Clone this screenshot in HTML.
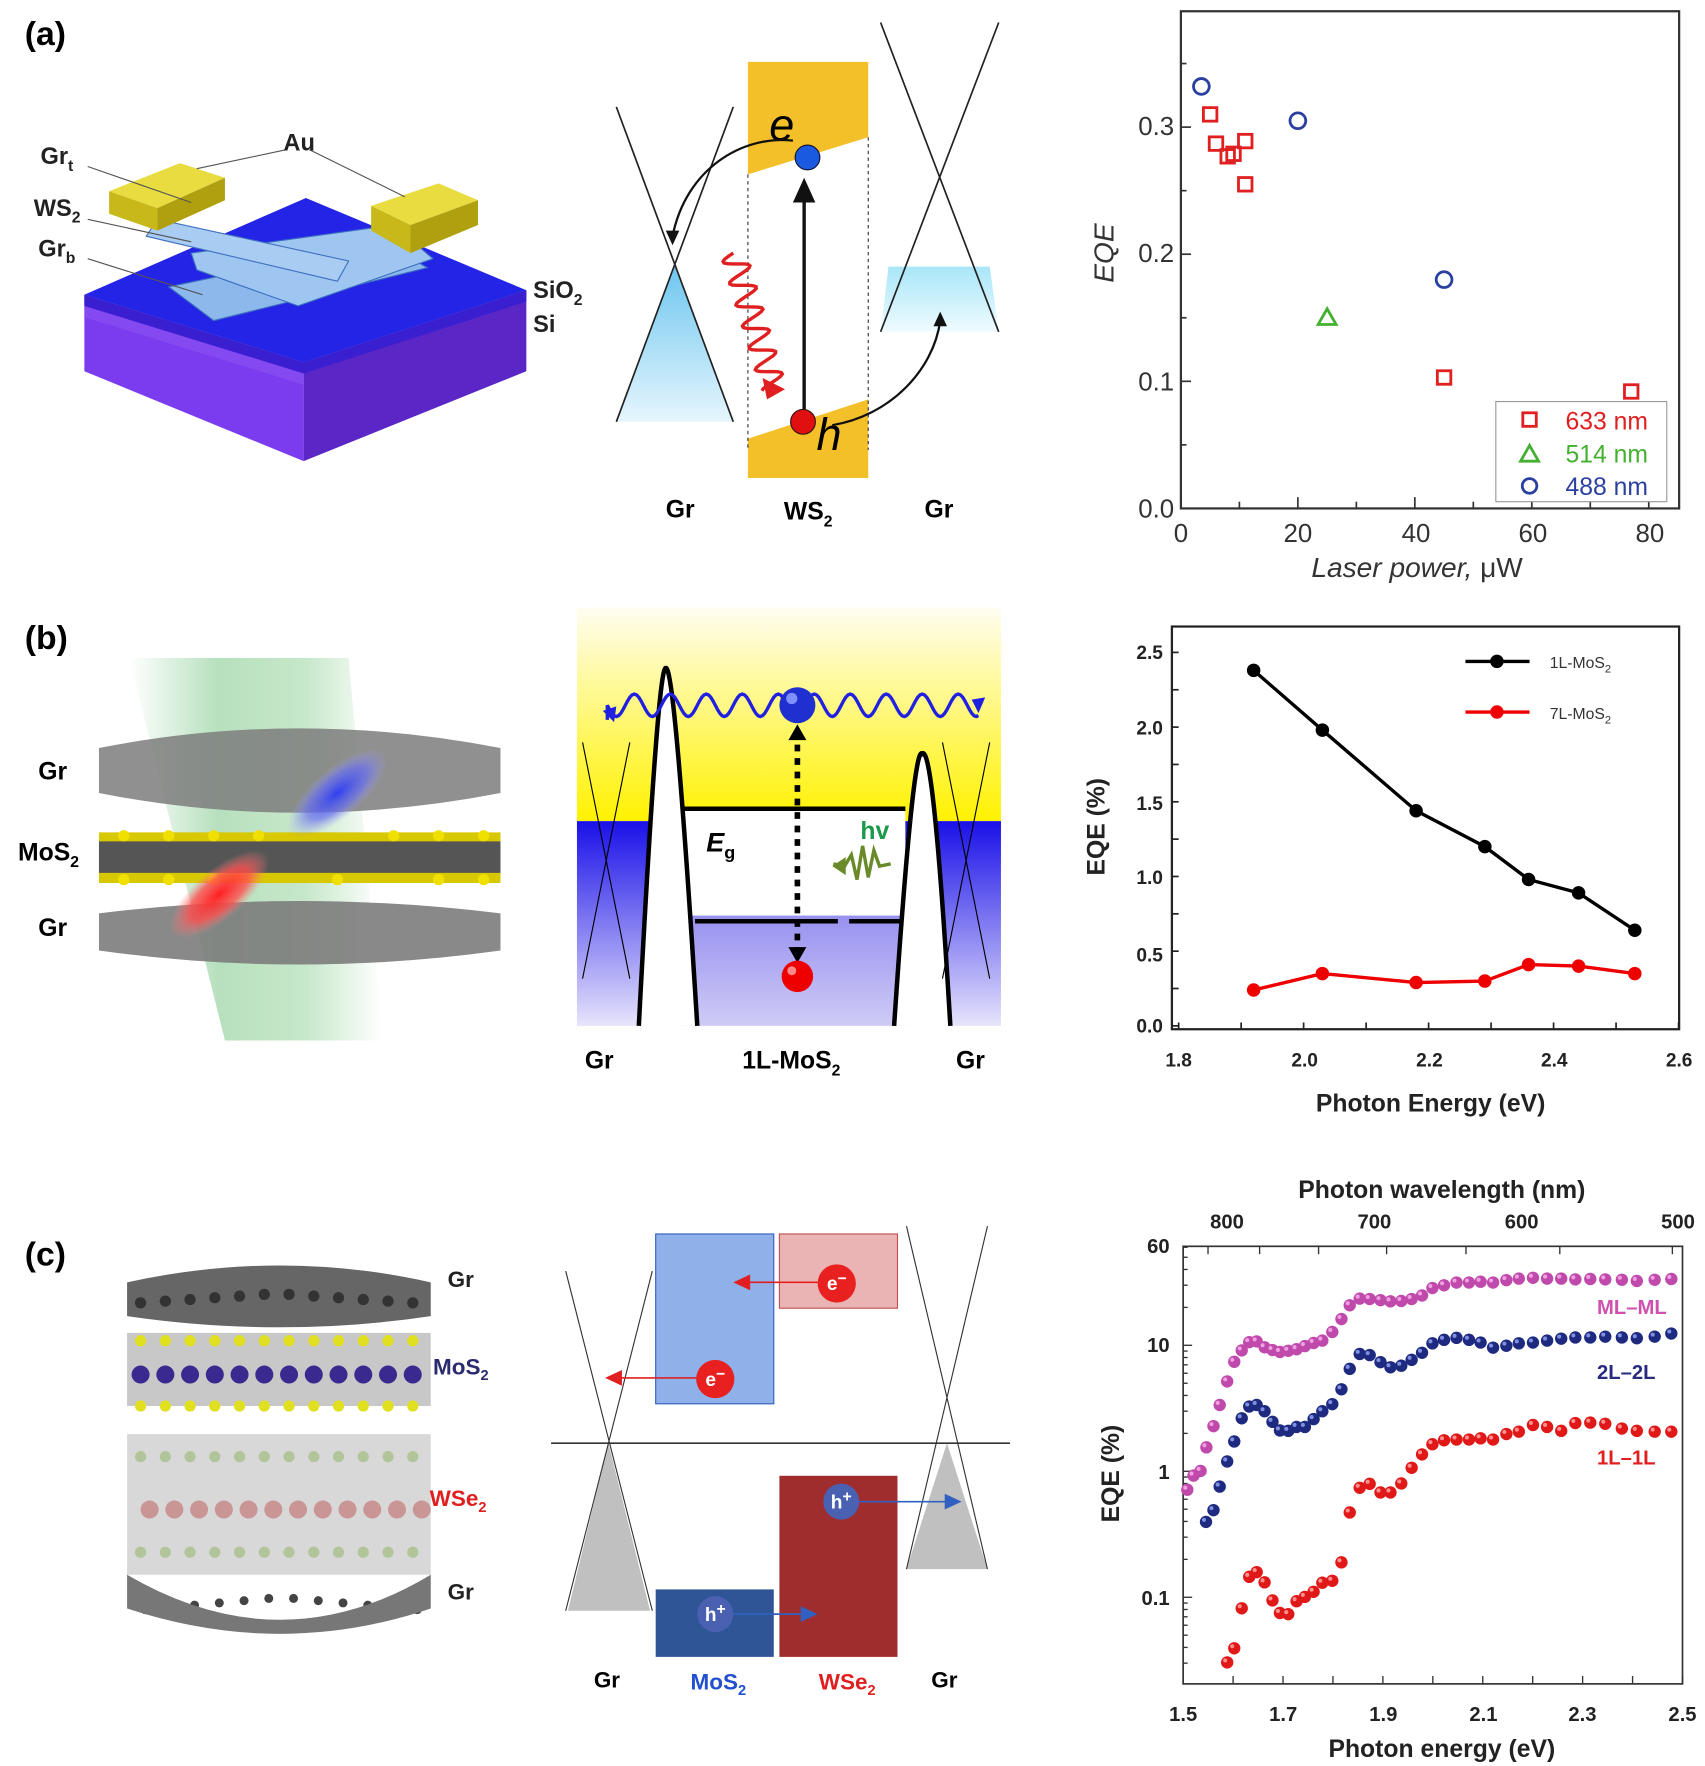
<!DOCTYPE html>
<html><head><meta charset="utf-8"><style>
html,body{margin:0;padding:0;background:#fff}
svg{display:block}
text{font-family:"Liberation Sans",sans-serif}
</style></head><body>
<svg id="s" width="1705" height="1766" viewBox="0 0 1516 1570" preserveAspectRatio="none" xmlns="http://www.w3.org/2000/svg">
<defs>
<linearGradient id="cone" x1="0" y1="0" x2="0" y2="1"><stop offset="0" stop-color="#6ec6f0"/><stop offset="1" stop-color="#e6f6fd"/></linearGradient>
<linearGradient id="cone2" x1="0" y1="0" x2="0" y2="1"><stop offset="0" stop-color="#a8e6f8"/><stop offset="1" stop-color="#f0fbff"/></linearGradient>
<linearGradient id="yel" x1="0" y1="0" x2="0" y2="1"><stop offset="0" stop-color="#fffdf2"/><stop offset="1" stop-color="#fff200"/></linearGradient>
<linearGradient id="blu" x1="0" y1="0" x2="0" y2="1"><stop offset="0" stop-color="#1a10e8"/><stop offset="1" stop-color="#e6e4fb"/></linearGradient>
<linearGradient id="beam" x1="0" y1="0" x2="1" y2="0"><stop offset="0" stop-color="#fff"/><stop offset=".35" stop-color="#a5d8ad"/><stop offset=".7" stop-color="#b9e2bd"/><stop offset="1" stop-color="#fff"/></linearGradient>
<radialGradient id="rb"><stop offset="0" stop-color="#ff2020"/><stop offset=".6" stop-color="#ff5050" stop-opacity=".8"/><stop offset="1" stop-color="#ff8080" stop-opacity="0"/></radialGradient>
<radialGradient id="bb"><stop offset="0" stop-color="#3040f0"/><stop offset=".6" stop-color="#6a70f0" stop-opacity=".7"/><stop offset="1" stop-color="#a0a0ff" stop-opacity="0"/></radialGradient>
</defs>

<!-- ================= (a) ================= -->
<text x="22" y="40" font-size="30" font-weight="bold">(a)</text>
<polygon points="75,330 270,410 270,322 75,262" fill="#7b3cf0"/>
<polygon points="270,410 468,330 468,258 270,322" fill="#5a26c6"/>
<polygon points="75,262 270,322 468,258 272,176" fill="#2424e6"/>
<polygon points="75,262 270,322 468,258 468,268 270,332 75,272" fill="#3a1fd0"/>
<polygon points="75,272 270,332 270,342 75,282" fill="#8a52f2" opacity=".6"/>
<polygon points="150,255 340,215 380,238 190,285" fill="#8cb8ec" stroke="#3b6fc0"/>
<polygon points="170,225 350,200 385,230 265,272 175,240" fill="#9fc6f0" stroke="#3b6fc0"/>
<polygon points="140,195 310,232 300,250 130,210" fill="#a8ccf2" stroke="#4070c0"/>
<polygon points="97,170 160,145 200,158 140,185" fill="#e8dc40"/>
<polygon points="97,170 140,185 140,205 97,190" fill="#c9b81a"/>
<polygon points="140,185 200,158 200,178 140,205" fill="#b0a010"/>
<polygon points="330,183 390,163 425,178 365,200" fill="#e8dc40"/>
<polygon points="330,183 365,200 365,225 330,205" fill="#c9b81a"/>
<polygon points="365,200 425,178 425,200 365,225" fill="#b0a010"/>
<g stroke="#555" stroke-width="1"><line x1="255" y1="133" x2="175" y2="150"/><line x1="275" y1="133" x2="360" y2="175"/><line x1="78" y1="148" x2="170" y2="180"/><line x1="78" y1="195" x2="170" y2="215"/><line x1="78" y1="230" x2="180" y2="262"/></g>
<g font-size="21" font-weight="bold" fill="#222">
<text x="252" y="134">Au</text>
<text x="36" y="146">Gr<tspan font-size="14" dy="6">t</tspan></text>
<text x="30" y="192">WS<tspan font-size="14" dy="6">2</tspan></text>
<text x="34" y="228">Gr<tspan font-size="14" dy="6">b</tspan></text>
<text x="474" y="265">SiO<tspan font-size="14" dy="6">2</tspan></text>
<text x="474" y="295">Si</text>
</g>
<polygon points="600,237 548,375 652,375" fill="url(#cone)"/>
<line x1="548" y1="95" x2="652" y2="375" stroke="#222" stroke-width="1.5"/>
<line x1="652" y1="95" x2="548" y2="375" stroke="#222" stroke-width="1.5"/>
<polygon points="790,237 880,237 888,295 783,295" fill="url(#cone2)"/>
<line x1="783" y1="20" x2="888" y2="295" stroke="#222" stroke-width="1.5"/>
<line x1="888" y1="20" x2="783" y2="295" stroke="#222" stroke-width="1.5"/>
<polygon points="665,55 772,55 772,122 665,155" fill="#f4c02a"/>
<polygon points="665,390 772,355 772,425 665,425" fill="#f4c02a"/>
<line x1="665" y1="155" x2="665" y2="400" stroke="#333" stroke-dasharray="3,3"/>
<line x1="772" y1="122" x2="772" y2="400" stroke="#333" stroke-dasharray="3,3"/>
<line x1="715" y1="370" x2="715" y2="170" stroke="#111" stroke-width="3"/>
<polygon points="705,180 725,180 715,158" fill="#111"/>
<circle cx="718" cy="140" r="11" fill="#1a5ae0" stroke="#113"/>
<circle cx="714" cy="375" r="11" fill="#e01010" stroke="#311"/>
<text x="684" y="125" font-size="40" font-style="italic" font-family="Liberation Serif">e</text>
<text x="726" y="400" font-size="40" font-style="italic" font-family="Liberation Serif">h</text>
<path d="M705,125 C660,120 610,150 598,210" fill="none" stroke="#111" stroke-width="2"/>
<polygon points="592,205 604,205 598,218" fill="#111"/>
<path d="M740,378 C790,370 830,330 836,285" fill="none" stroke="#111" stroke-width="2"/>
<polygon points="830,290 842,290 836,277" fill="#111"/>
<path id="rw" fill="none" stroke="#e02020" stroke-width="3"/>
<polygon points="678,336 698,346 682,355" fill="#e02020"/>
<g font-size="22" font-weight="bold"><text x="592" y="460">Gr</text><text x="697" y="462">WS<tspan font-size="14" dy="6">2</tspan></text><text x="822" y="460">Gr</text></g>

<rect x="1050" y="10" width="443" height="442" fill="none" stroke="#333" stroke-width="2"/>
<g id="ga" stroke="#333" stroke-width="1.5"></g>
<g font-size="23" fill="#333">
<text x="1044" y="460" text-anchor="end">0.0</text><text x="1044" y="347" text-anchor="end">0.1</text><text x="1044" y="233" text-anchor="end">0.2</text><text x="1044" y="120" text-anchor="end">0.3</text>
<text x="1050" y="482" text-anchor="middle">0</text><text x="1154" y="482" text-anchor="middle">20</text><text x="1259" y="482" text-anchor="middle">40</text><text x="1363" y="482" text-anchor="middle">60</text><text x="1467" y="482" text-anchor="middle">80</text>
<text x="1260" y="513" text-anchor="middle" font-style="italic" font-size="25">Laser power, <tspan font-style="normal">μW</tspan></text>
<text transform="translate(990,225) rotate(-90)" text-anchor="middle" font-style="italic" font-size="25">EQE</text>
</g>
<rect x="1330" y="357" width="152" height="89" fill="#fff" stroke="#999"/>
<g id="pa"></g>
<rect x="1354" y="367" width="12" height="12" fill="none" stroke="#e02020" stroke-width="2.5"/>
<polygon points="1360,396 1352,410 1368,410" fill="none" stroke="#44b030" stroke-width="2.5"/>
<circle cx="1360" cy="432" r="6.5" fill="none" stroke="#2a3fa0" stroke-width="2.5"/>
<g font-size="22"><text x="1392" y="382" fill="#e02020">633 nm</text><text x="1392" y="411" fill="#44b030">514 nm</text><text x="1392" y="440" fill="#2a3fa0">488 nm</text></g>

<!-- ================= (b) ================= -->
<text x="22" y="577" font-size="30" font-weight="bold">(b)</text>
<polygon points="115,585 310,585 340,925 200,925" fill="url(#beam)" opacity=".8"/>
<path d="M88,665 Q265,630 445,665 L445,705 Q265,740 88,705Z" fill="#7c7c7c" opacity=".85"/>
<path d="M88,740 L445,740 L445,785 L88,785Z" fill="#d8c800"/>
<path d="M88,748 L445,748 L445,776 L88,776Z" fill="#555"/>
<path d="M88,812 Q265,790 445,812 L445,845 Q265,870 88,845Z" fill="#7c7c7c" opacity=".9"/>
<g fill="#f0e000"><circle cx="110" cy="743" r="5"/><circle cx="150" cy="743" r="5"/><circle cx="190" cy="743" r="5"/><circle cx="230" cy="743" r="5"/><circle cx="350" cy="743" r="5"/><circle cx="390" cy="743" r="5"/><circle cx="430" cy="743" r="5"/><circle cx="110" cy="782" r="5"/><circle cx="150" cy="782" r="5"/><circle cx="190" cy="782" r="5"/><circle cx="300" cy="782" r="5"/><circle cx="390" cy="782" r="5"/><circle cx="430" cy="782" r="5"/></g>
<ellipse cx="300" cy="705" rx="55" ry="22" fill="url(#bb)" transform="rotate(-40 300 705)"/>
<ellipse cx="195" cy="795" rx="55" ry="22" fill="url(#rb)" transform="rotate(-40 195 795)"/>
<g font-size="22" font-weight="bold"><text x="34" y="693">Gr</text><text x="16" y="765">MoS<tspan font-size="14" dy="6">2</tspan></text><text x="34" y="832">Gr</text></g>

<rect x="513" y="540" width="377" height="190" fill="url(#yel)"/>
<rect x="513" y="730" width="377" height="182" fill="url(#blu)"/>
<rect x="605" y="718" width="200" height="96" fill="#fff"/>
<rect x="605" y="814" width="200" height="98" fill="#b8b2f0" opacity=".5"/>
<path d="M568,912 Q585,590 592,594 Q600,590 620,912Z" fill="#fff"/>
<path d="M795,912 Q812,660 820,670 Q830,660 845,912Z" fill="#fff"/>
<path d="M568,912 Q585,590 592,594 Q600,590 620,912" fill="none" stroke="#000" stroke-width="4"/>
<path d="M795,912 Q812,660 820,670 Q830,660 845,912" fill="none" stroke="#000" stroke-width="4"/>
<line x1="608" y1="719" x2="805" y2="719" stroke="#000" stroke-width="4"/>
<line x1="618" y1="819" x2="745" y2="819" stroke="#000" stroke-width="4"/>
<line x1="755" y1="819" x2="800" y2="819" stroke="#000" stroke-width="4"/>
<g stroke="#000" stroke-width="1"><line x1="518" y1="660" x2="560" y2="870"/><line x1="560" y1="660" x2="518" y2="870"/><line x1="838" y1="660" x2="880" y2="870"/><line x1="880" y1="660" x2="838" y2="870"/></g>
<path id="wave" fill="none" stroke="#2020e0" stroke-width="3"/>
<circle cx="709" cy="627" r="16" fill="#2030d0"/><circle cx="704" cy="621" r="5" fill="#8090ff"/>
<line x1="709" y1="650" x2="709" y2="850" stroke="#000" stroke-width="5" stroke-dasharray="6,6"/>
<polygon points="701,658 717,658 709,644" fill="#000"/><polygon points="701,842 717,842 709,856" fill="#000"/>
<circle cx="709" cy="868" r="14" fill="#e00"/><circle cx="704" cy="863" r="4" fill="#f88"/>
<path d="M792,768 l-10,2 l-5,-14 l-5,24 l-5,-28 l-5,30 l-5,-22 l-6,10 l-10,-2" fill="none" stroke="#6a8a2a" stroke-width="3"/>
<polygon points="740,770 752,762 752,778" fill="#6a8a2a"/>
<text x="765" y="746" font-size="22" font-weight="bold" fill="#1a9a4a">hv</text>
<text x="628" y="757" font-size="24" font-weight="bold" font-style="italic">E<tspan font-size="16" dy="6" font-style="normal">g</tspan></text>
<g font-size="22" font-weight="bold"><text x="520" y="950">Gr</text><text x="660" y="950">1L-MoS<tspan font-size="14" dy="6">2</tspan></text><text x="850" y="950">Gr</text></g>

<rect x="1042" y="557" width="451" height="358" fill="none" stroke="#222" stroke-width="2"/>
<g id="gb" stroke="#222" stroke-width="1.5"></g>
<g font-size="17" font-weight="bold" fill="#222" text-anchor="end">
<text x="1034" y="918">0.0</text><text x="1034" y="855">0.5</text><text x="1034" y="786">1.0</text><text x="1034" y="720">1.5</text><text x="1034" y="653">2.0</text><text x="1034" y="586">2.5</text></g>
<g font-size="17" font-weight="bold" fill="#222" text-anchor="middle">
<text x="1048" y="948">1.8</text><text x="1160" y="948">2.0</text><text x="1271" y="948">2.2</text><text x="1382" y="948">2.4</text><text x="1493" y="948">2.6</text>
<text x="1272" y="988" font-size="22">Photon Energy (eV)</text>
<text transform="translate(982,735) rotate(-90)" font-size="22">EQE (%)</text></g>
<g id="pb"></g>
<line x1="1303" y1="588" x2="1360" y2="588" stroke="#000" stroke-width="3"/><circle cx="1331" cy="588" r="6" fill="#000"/>
<line x1="1303" y1="633" x2="1360" y2="633" stroke="#e00" stroke-width="3"/><circle cx="1331" cy="633" r="6" fill="#e00"/>
<g font-size="14" fill="#333"><text x="1378" y="594">1L-MoS<tspan font-size="10" dy="4">2</tspan></text><text x="1378" y="639">7L-MoS<tspan font-size="10" dy="4">2</tspan></text></g>

<!-- ================= (c) ================= -->
<text x="22" y="1125" font-size="30" font-weight="bold">(c)</text>
<path d="M113,1140 Q250,1110 383,1140 L383,1170 Q250,1190 113,1170Z" fill="#666"/>
<path d="M113,1185 L383,1185 L383,1250 L113,1250Z" fill="#c8c8c8"/>
<g id="atoms"></g>
<path d="M113,1275 L383,1275 L383,1400 L113,1400Z" fill="#c8c8c8" opacity=".7"/>
<path d="M113,1400 Q250,1480 383,1400 L383,1430 Q250,1475 113,1430Z" fill="#777"/>
<g font-size="20" font-weight="bold"><text x="398" y="1144" fill="#222">Gr</text><text x="385" y="1222" fill="#2a2a70">MoS<tspan font-size="13" dy="5">2</tspan></text><text x="382" y="1339" fill="#e02020">WSe<tspan font-size="13" dy="5">2</tspan></text><text x="398" y="1422" fill="#222">Gr</text></g>

<polygon points="541,1283 505,1432 578,1432" fill="#c0c0c0"/>
<polygon points="842,1283 806,1395 878,1395" fill="#c0c0c0"/>
<g stroke="#333" stroke-width="1"><line x1="503" y1="1130" x2="580" y2="1432"/><line x1="580" y1="1130" x2="503" y2="1432"/><line x1="878" y1="1090" x2="806" y2="1395"/><line x1="806" y1="1090" x2="878" y2="1395"/></g>
<line x1="490" y1="1283" x2="898" y2="1283" stroke="#333" stroke-width="1.5"/>
<rect x="583" y="1097" width="105" height="151" fill="#8fb0e8" stroke="#3060c0"/>
<rect x="693" y="1097" width="105" height="66" fill="#ebb4b4" stroke="#c05050"/>
<rect x="583" y="1413" width="105" height="60" fill="#2f5597"/>
<rect x="693" y="1312" width="105" height="161" fill="#a02d2d"/>
<g stroke-width="1.5">
<line x1="730" y1="1140" x2="665" y2="1140" stroke="#e02020"/><polygon points="652,1140 667,1133 667,1147" fill="#e02020"/>
<line x1="620" y1="1225" x2="552" y2="1225" stroke="#e02020"/><polygon points="538,1225 553,1218 553,1232" fill="#e02020"/>
<line x1="760" y1="1335" x2="842" y2="1335" stroke="#3060c0"/><polygon points="855,1335 840,1328 840,1342" fill="#3060c0"/>
<line x1="650" y1="1435" x2="712" y2="1435" stroke="#3060c0"/><polygon points="727,1435 712,1428 712,1442" fill="#3060c0"/>
</g>
<circle cx="744" cy="1141" r="17" fill="#e82020"/><text x="744" y="1147" font-size="17" fill="#fff" text-anchor="middle" font-weight="bold">e<tspan dy="-6" font-size="14">−</tspan></text>
<circle cx="636" cy="1226" r="17" fill="#e82020"/><text x="636" y="1232" font-size="17" fill="#fff" text-anchor="middle" font-weight="bold">e<tspan dy="-6" font-size="14">−</tspan></text>
<circle cx="748" cy="1335" r="16" fill="#4a60b0"/><text x="748" y="1341" font-size="17" fill="#fff" text-anchor="middle" font-weight="bold">h<tspan dy="-6" font-size="14">+</tspan></text>
<circle cx="636" cy="1435" r="16" fill="#4a60b0"/><text x="636" y="1441" font-size="17" fill="#fff" text-anchor="middle" font-weight="bold">h<tspan dy="-6" font-size="14">+</tspan></text>
<g font-size="20" font-weight="bold"><text x="528" y="1500">Gr</text><text x="614" y="1502" fill="#2050d0">MoS<tspan font-size="13" dy="5">2</tspan></text><text x="728" y="1502" fill="#e02020">WSe<tspan font-size="13" dy="5">2</tspan></text><text x="828" y="1500">Gr</text></g>

<rect x="1052" y="1108" width="444" height="389" fill="none" stroke="#333" stroke-width="1.5"/>
<g id="gc" stroke="#333" stroke-width="1.2"></g>
<g font-size="18" font-weight="bold" fill="#222" text-anchor="middle">
<text x="1052" y="1530">1.5</text><text x="1141" y="1530">1.7</text><text x="1230" y="1530">1.9</text><text x="1319" y="1530">2.1</text><text x="1407" y="1530">2.3</text><text x="1496" y="1530">2.5</text>
<text x="1091" y="1092">800</text><text x="1222" y="1092">700</text><text x="1353" y="1092">600</text><text x="1492" y="1092">500</text>
<text x="1282" y="1065" font-size="22">Photon wavelength (nm)</text>
<text x="1282" y="1562" font-size="22">Photon energy (eV)</text>
<text transform="translate(995,1310) rotate(-90)" font-size="22">EQE  (%)</text></g>
<g font-size="18" font-weight="bold" fill="#222" text-anchor="end">
<text x="1040" y="1114">60</text><text x="1040" y="1202">10</text><text x="1040" y="1315">1</text><text x="1040" y="1427">0.1</text></g>
<g id="pc"></g>
<g font-size="18" font-weight="bold"><text x="1420" y="1168" fill="#d050b0">ML–ML</text><text x="1420" y="1226" fill="#2a2a80">2L–2L</text><text x="1420" y="1302" fill="#e02020">1L–1L</text></g>
</svg>
<script>
var NS="http://www.w3.org/2000/svg";
function el(p,t,a){var e=document.createElementNS(NS,t);for(var k in a)e.setAttribute(k,a[k]);document.getElementById(p).appendChild(e);return e;}
// red wavy photon in (a): along line (652,225)->(688,345)
(function(){var x0=652,y0=225,x1=688,y1=345,L=Math.hypot(x1-x0,y1-y0),ux=(x1-x0)/L,uy=(y1-y0)/L,nx=-uy,ny=ux,d='';
for(var t=0;t<=L;t+=1.5){var a=11*Math.sin(t/20*2*Math.PI);var x=x0+ux*t+nx*a,y=y0+uy*t+ny*a;d+=(t?' L':'M')+x.toFixed(1)+','+y.toFixed(1);}
document.getElementById('rw').setAttribute('d',d);})();
for(var v=0;v<=80;v+=10){var x=1050+v*5.2;el('ga','line',{x1:x,y1:452,x2:x,y2:v%20?446:442});}
for(var v=0;v<=0.35;v+=0.05){var y=452-v*1130;el('ga','line',{x1:1050,y1:y,x2:Math.round(v*100)%10?1055:1059,y2:y});}
function ax(v){return 1050+v*5.2} function ay(v){return 452-v*1130}
[[5,.31],[6,.287],[8,.277],[9,.279],[11,.289],[11,.255],[45,.103],[77,.092]].forEach(function(p){el('pa','rect',{x:ax(p[0])-6,y:ay(p[1])-6,width:12,height:12,fill:'none',stroke:'#e02020','stroke-width':2.5});});
[[3.5,.332],[20,.305],[45,.18]].forEach(function(p){el('pa','circle',{cx:ax(p[0]),cy:ay(p[1]),r:7,fill:'none',stroke:'#2a3fa0','stroke-width':2.5});});
el('pa','polygon',{points:[ax(25),ay(.15)-8,ax(25)-8,ay(.15)+6,ax(25)+8,ay(.15)+6].join(','),fill:'none',stroke:'#44b030','stroke-width':2.5});
function bx(v){return 1048+(v-1.8)*555.6} function by(v){return 912-v*132.8}
for(var v=1.8;v<=2.61;v+=0.1){var x=bx(v);el('gb','line',{x1:x,y1:915,x2:x,y2:909});}
for(var v=0;v<=2.5;v+=0.25){var y=by(v);el('gb','line',{x1:1042,y1:y,x2:1048,y2:y});}
var E=[1.92,2.03,2.18,2.29,2.36,2.44,2.53];
[[2.38,1.98,1.44,1.20,.98,.89,.64,'#000'],[.24,.35,.29,.30,.41,.40,.35,'#e00']].forEach(function(s){
 var pts=E.map(function(e,i){return bx(e)+','+by(s[i])}).join(' ');
 el('pb','polyline',{points:pts,fill:'none',stroke:s[7],'stroke-width':3});
 E.forEach(function(e,i){el('pb','circle',{cx:bx(e),cy:by(s[i]),r:6,fill:s[7]});});});
var d='M540,640';for(var x=540;x<=870;x+=2){d+=' L'+x+','+(627+10*Math.sin((x-540)/32*2*Math.PI));}
document.getElementById('wave').setAttribute('d',d);
el('s','polygon',{points:'536,632 548,628 546,642',fill:'#2020e0'});
el('s','polygon',{points:'876,620 864,622 870,634',fill:'#2020e0'});
for(var v=1.5;v<=2.51;v+=0.1){var x=1052+(v-1.5)*444;el('gc','line',{x1:x,y1:1497,x2:x,y2:1490});}
[800,750,700,650,600,550,500].forEach(function(l){var x=1052+(1239.84/l-1.5)*444;el('gc','line',{x1:x,y1:1108,x2:x,y2:1115});});
function cy(v){return 1308-Math.log10(v)*112}
[0.03,0.04,0.05,0.06,0.07,0.08,0.09,0.1,0.2,0.3,0.4,0.5,0.6,0.7,0.8,0.9,1,2,3,4,5,6,7,8,9,10,20,30,40,50,60].forEach(function(v){var y=cy(v);var m=(v==0.1||v==1||v==10)?8:4;el('gc','line',{x1:1052,y1:y,x2:1052+m,y2:y});});
function tc(zx,zy){return [1052+(zx-320)*0.3694,1196+(zy-500)*0.3489]}
var ML=[[330,868],[345,832],[362,820],[376,760],[393,706],[408,652],[426,592],[443,542],[461,513],[479,492],[497,490],[516,505],[535,512],[553,517],[573,514],[593,510],[613,502],[634,494],[655,488],[679,466],[701,433],[721,398],[745,381],[769,382],[795,385],[819,388],[845,387],[870,382],[895,373],[920,354],[948,347],[978,340],[1008,340],[1036,338],[1066,340],[1098,334],[1128,330],[1162,328],[1196,330],[1230,330],[1264,332],[1300,331],[1336,332],[1376,333],[1412,336],[1455,333],[1495,331]];
var BL=[[375,950],[393,920],[408,860],[426,796],[443,745],[461,686],[479,656],[497,652],[516,668],[535,695],[553,717],[573,718],[593,708],[613,708],[634,688],[655,668],[679,650],[701,612],[721,560],[745,522],[769,525],[795,543],[819,556],[845,552],[870,537],[895,519],[920,495],[948,486],[978,481],[1008,486],[1036,493],[1066,506],[1098,501],[1128,495],[1162,493],[1196,488],[1230,483],[1264,480],[1300,480],[1336,478],[1376,480],[1412,482],[1455,478],[1495,470]];
var RL=[[426,1308],[443,1272],[461,1170],[479,1090],[497,1078],[516,1104],[535,1150],[553,1182],[573,1185],[593,1152],[613,1141],[634,1128],[655,1105],[679,1100],[701,1053],[721,926],[745,863],[769,853],[795,875],[819,875],[845,852],[870,812],[895,778],[920,752],[948,742],[978,740],[1008,740],[1036,737],[1066,740],[1098,726],[1128,720],[1162,703],[1196,708],[1230,718],[1264,698],[1300,697],[1336,700],[1376,712],[1412,718],[1455,720],[1495,720]];
[[ML,'#c04aac','#f0a0e0'],[BL,'#1e2a80','#8090e0'],[RL,'#e01818','#ff9090']].forEach(function(s){s[0].forEach(function(p){var q=tc(p[0],p[1]);el('pc','circle',{cx:q[0],cy:q[1],r:5.5,fill:s[1]});el('pc','circle',{cx:q[0]-1.8,cy:q[1]-1.8,r:1.8,fill:s[2]});});});
for(var i=0;i<12;i++){var x=125+i*22;
 el('atoms','circle',{cx:x,cy:1150+Math.abs(i-5.5)*1.5,r:5,fill:'#333'});
 el('atoms','circle',{cx:x,cy:1192,r:5,fill:'#e0e020'});
 el('atoms','circle',{cx:x,cy:1222,r:8,fill:'#3a2a90'});
 el('atoms','circle',{cx:x,cy:1250,r:5,fill:'#e0e020'});
 el('atoms','circle',{cx:x,cy:1295,r:5,fill:'#80c030'});
 el('atoms','circle',{cx:x+8,cy:1342,r:8,fill:'#d02020'});
 el('atoms','circle',{cx:x,cy:1380,r:5,fill:'#80c030'});
 el('atoms','circle',{cx:x+4,cy:1420+Math.abs(i-5.5)*2,r:4,fill:'#444'});}
</script>
</body></html>
